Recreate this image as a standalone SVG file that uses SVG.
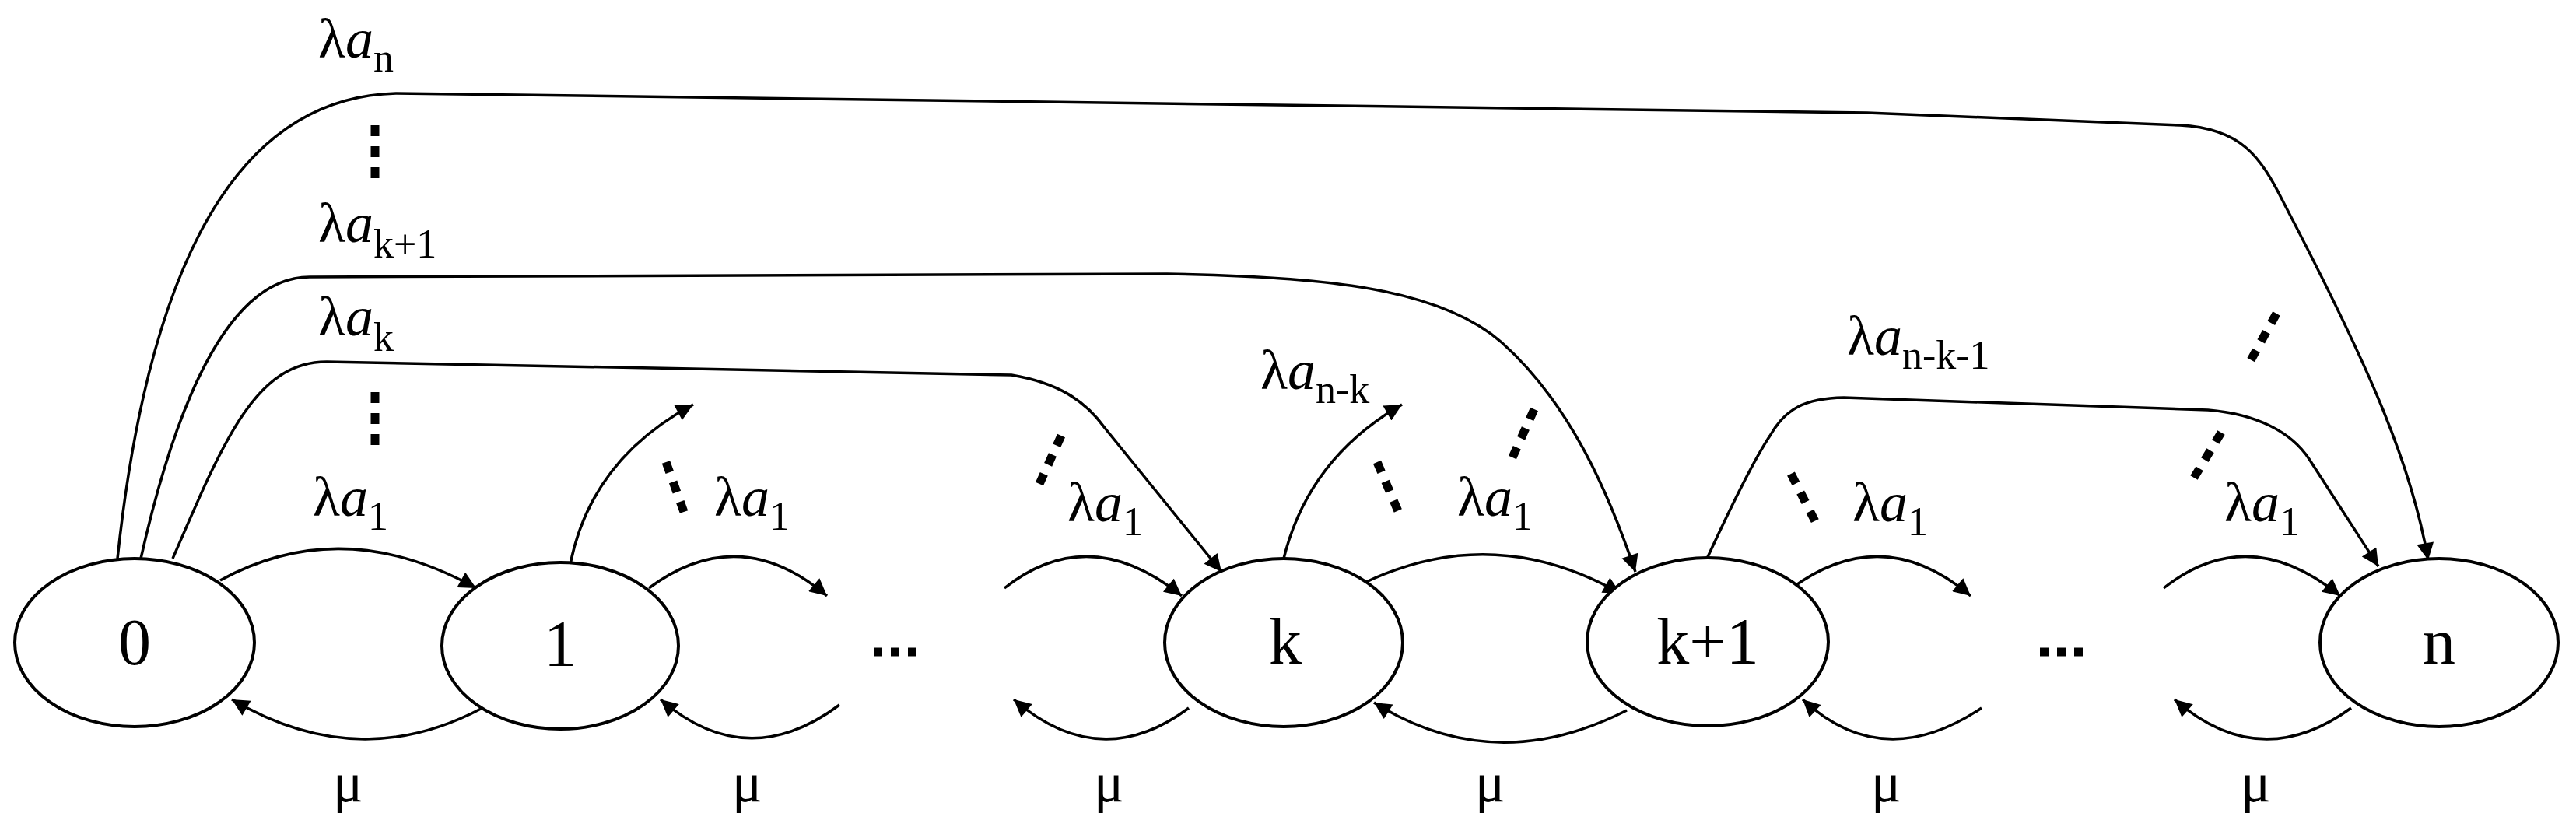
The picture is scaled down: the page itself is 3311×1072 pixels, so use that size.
<svg xmlns="http://www.w3.org/2000/svg" width="3311" height="1072" viewBox="0 0 3311 1072">
<style>
.n{fill:#fff;stroke:#000;stroke-width:4}
.c{fill:none;stroke:#000;stroke-width:3.5;marker-end:url(#ah)}
.t{font-family:"Liberation Serif","Times New Roman",serif;font-size:84px;fill:#000;text-anchor:middle}
.l{font-family:"Liberation Serif","Times New Roman",serif;font-size:72px;fill:#000}
.i{font-style:italic}
.s{font-size:52px}
.vd{stroke:#000;stroke-width:11;stroke-dasharray:14 13;fill:none}
.hd{stroke:#000;stroke-width:11;stroke-dasharray:11 11;fill:none}
</style>
<defs>
<marker id="ah" viewBox="0 0 10 10" refX="10" refY="5" markerWidth="32" markerHeight="22" markerUnits="userSpaceOnUse" orient="auto"><path d="M0,0 L10,5 L0,10 z" fill="#000"/></marker>
</defs>
<rect width="3311" height="1072" fill="#fff"/>
<g id="connectors">
<path class="c" d="M151,718 C190,350 300,125 509,120 L2400,145 L2802,161 C2880,165 2905,200 2935,260 C3050,480 3100,600 3121,720"/>
<path class="c" d="M181,718 C230,500 300,356 398,356 L1500,352 C1700,355 1850,370 1930,440 C2020,520 2070,640 2102,735"/>
<path class="c" d="M222,718 C290,560 330,465 420,465 L1300,482 C1360,492 1395,515 1420,550 L1570,735"/>
<path class="c" d="M283,746 Q440,660 612,756"/>
<path class="c" d="M620,910 Q460,995 298,899"/>
<path class="c" d="M733,725 Q760,590 891,520"/>
<path class="c" d="M834,756 Q950,670 1063,766"/>
<path class="c" d="M1079,906 Q960,995 849,899"/>
<path class="c" d="M1291,756 Q1400,670 1519,766"/>
<path class="c" d="M1528,910 Q1414,995 1303,899"/>
<path class="c" d="M1649,722 Q1680,590 1802,520"/>
<path class="c" d="M1754,749 Q1920,670 2083,763"/>
<path class="c" d="M2091,913 Q1920,1000 1766,903"/>
<path class="c" d="M2194,718 C2230,640 2255,590 2275,560 C2295,525 2320,512 2370,511 L2838,527 C2900,532 2945,555 2968,590 L3057,728"/>
<path class="c" d="M2303,756 Q2420,670 2533,766"/>
<path class="c" d="M2547,910 Q2420,995 2317,899"/>
<path class="c" d="M2781,756 Q2890,670 3008,766"/>
<path class="c" d="M3022,910 Q2905,995 2795,899"/>
</g>
<g id="node-0"><ellipse class="n" cx="173" cy="826" rx="154" ry="108"/><text class="t" x="173" y="854">0</text></g>
<g id="node-1"><ellipse class="n" cx="720" cy="830" rx="152" ry="107"/><text class="t" x="720" y="856">1</text></g>
<g id="node-k"><ellipse class="n" cx="1650" cy="826" rx="153" ry="108"/><text class="t" x="1652" y="853">k</text></g>
<g id="node-k1"><ellipse class="n" cx="2195" cy="825" rx="155" ry="108"/><text class="t" x="2195" y="853">k+1</text></g>
<g id="node-n"><ellipse class="n" cx="3135" cy="826" rx="153" ry="108"/><text class="t" x="3135" y="853">n</text></g>
<g id="labels">
<text class="l" x="409" y="74">λ<tspan class="i">a</tspan><tspan class="s" dy="18">n</tspan></text>
<text class="l" x="409" y="311">λ<tspan class="i">a</tspan><tspan class="s" dy="20">k+1</tspan></text>
<text class="l" x="409" y="431">λ<tspan class="i">a</tspan><tspan class="s" dy="20">k</tspan></text>
<text class="l" x="402" y="663">λ<tspan class="i">a</tspan><tspan class="s" dy="18">1</tspan></text>
<text class="l" x="918" y="663">λ<tspan class="i">a</tspan><tspan class="s" dy="18">1</tspan></text>
<text class="l" x="1372" y="670">λ<tspan class="i">a</tspan><tspan class="s" dy="18">1</tspan></text>
<text class="l" x="1620" y="500">λ<tspan class="i">a</tspan><tspan class="s" dy="18">n-k</tspan></text>
<text class="l" x="1873" y="663">λ<tspan class="i">a</tspan><tspan class="s" dy="18">1</tspan></text>
<text class="l" x="2374" y="456">λ<tspan class="i">a</tspan><tspan class="s" dy="18">n-k-1</tspan></text>
<text class="l" x="2381" y="670">λ<tspan class="i">a</tspan><tspan class="s" dy="18">1</tspan></text>
<text class="l" x="2859" y="670">λ<tspan class="i">a</tspan><tspan class="s" dy="18">1</tspan></text>
<text class="l" x="428" y="1030">μ</text>
<text class="l" x="941" y="1030">μ</text>
<text class="l" x="1406" y="1030">μ</text>
<text class="l" x="1896" y="1030">μ</text>
<text class="l" x="2405" y="1030">μ</text>
<text class="l" x="2880" y="1030">μ</text>
</g>
<g id="dots">
<path class="vd" d="M482,161 V229"/>
<path class="vd" d="M482,504 V572"/>
<path class="vd" d="M856,594 L879,658"/>
<path class="vd" d="M1364,560 L1336,622"/>
<path class="vd" d="M1770,594 L1797,657"/>
<path class="vd" d="M1972,526 L1944,588"/>
<path class="vd" d="M2302,609 L2333,670"/>
<path class="vd" d="M2855,556 L2820,614"/>
<path class="vd" d="M2926,403 L2893,463"/>
<path class="hd" d="M1123,838 H1178"/>
<path class="hd" d="M2622,838 H2677"/>
</g>
</svg>
